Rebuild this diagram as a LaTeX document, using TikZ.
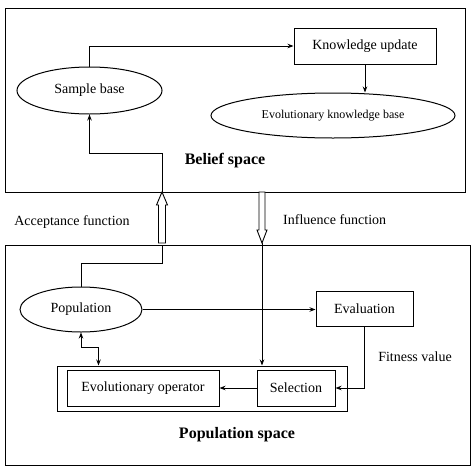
\documentclass[tikz,border=0pt]{standalone}
\usepackage{fontspec}
\setmainfont{Liberation Serif}
\usetikzlibrary{shapes.geometric,arrows.meta,calc}
\begin{document}
\begin{tikzpicture}[x=1pt,y=-1pt,
  box/.style={draw,line width=1pt,inner sep=0pt,font=\fontsize{14}{16}\selectfont},
  ell/.style={draw,ellipse,line width=1pt,inner sep=0pt,font=\fontsize{14}{16}\selectfont},
  arr/.style={line width=0.9pt,-{Stealth[length=6pt,width=4.5pt]}},
  darr/.style={line width=0.9pt,{Stealth[length=6pt,width=4.5pt]}-{Stealth[length=6pt,width=4.5pt]}},
  ln/.style={line width=0.9pt},
  hollow/.style={draw,line width=0.9pt,fill=white},
  lbl/.style={font=\fontsize{14}{16}\selectfont,inner sep=0pt},
  title/.style={font=\fontsize{16}{18}\selectfont\bfseries,inner sep=0pt}]
\useasboundingbox (0,0) rectangle (474,474);
% containers
\node[box,minimum width=460pt,minimum height=184pt] (belief) at (235,100) {};
\node[box,minimum width=465pt,minimum height=220pt] (popspace) at (237.5,355) {};
% belief space
\node[box,minimum width=142pt,minimum height=36pt] (ku) at (365,46) {Knowledge update};
\node[ell,minimum width=145pt,minimum height=47pt] (sb) at (89.5,90.5) {Sample base};
\node[ell,minimum width=244pt,minimum height=45pt,font=\fontsize{12}{14}\selectfont] (ekb) at (333,115.5) {Evolutionary knowledge base};
\node[title] (bs) at (225,161) {Belief space};
% population space
\node[ell,minimum width=122pt,minimum height=45pt] (pop) at (81,309.5) {Population};
\node[box,minimum width=97pt,minimum height=35pt] (eval) at (364.5,308.5) {Evaluation};
\node[box,minimum width=290pt,minimum height=45pt] (outer) at (202,388.5) {};
\node[box,minimum width=152pt,minimum height=36pt] (evo) at (143,388) {Evolutionary operator};
\node[box,minimum width=78pt,minimum height=36pt] (sel) at (296,388) {Selection};
\node[title] (ps) at (237,435) {Population space};
% labels
\node[lbl] (acc) at (72,222) {Acceptance function};
\node[lbl,anchor=west] (inf) at (283,220) {Influence function};
\node[lbl] (fit) at (415,357) {Fitness value};
% coordinates for hollow arrows
\coordinate (upTip) at (162,192);
\coordinate (upTail) at (162,245);
\coordinate (dnTop) at (262,192);
\coordinate (dnTip) at (262,243);
% belief connectors
\draw[arr] (sb.north) |- (ku.west);
\draw[arr] (ku.south) -- (ku.south |- ekb.north);
\draw[arr] (upTip) -- ++(0,-39) -| (sb.south);
% hollow arrows
\draw[hollow] (upTip) -- ++(5.5,13) -- ++(-2,0) -- ++(0,38) -- ++(-7,0) -- ++(0,-38) -- ++(-2,0) -- cycle;
\draw[hollow] (dnTip) -- ++(5,-13) -- ++(-2,0) -- ++(0,-38) -- ++(-6,0) -- ++(0,38) -- ++(-2,0) -- cycle;
% population connectors
\draw[ln] (pop.north) |- ($(upTail)+(0,18)$) -- (upTail);
\draw[arr] (dnTip) -- (dnTip |- outer.north);
\draw[arr] (pop.east) -- (pop.east -| eval.west);
\draw[arr] (eval.south) |- (sel.east);
\draw[arr] (sel.west) -- (evo.east);
\draw[darr] (pop.south) -- ++(0,15) -| ($(outer.north west)+(42,0)$);
\end{tikzpicture}
\end{document}
